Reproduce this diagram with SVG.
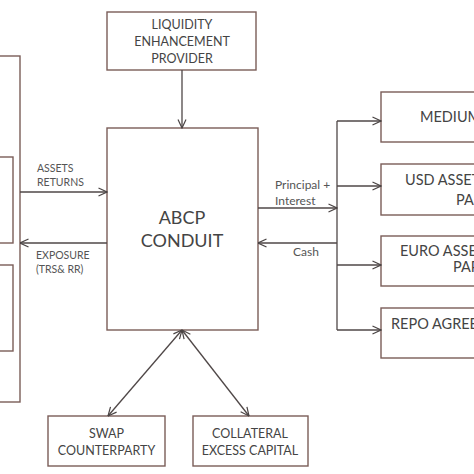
<svg xmlns="http://www.w3.org/2000/svg" width="474" height="474" viewBox="0 0 474 474">
<defs>
<marker id="arr" viewBox="0 0 10 10" refX="9.5" refY="5" markerWidth="10" markerHeight="10" markerUnits="userSpaceOnUse" orient="auto-start-reverse">
<path d="M1,1 L9.5,5 L1,9" fill="none" stroke="#4a4444" stroke-width="1.2"/>
</marker>
<style>
.box{fill:#ffffff;stroke:#7a5d58;stroke-width:1.4}
.ln{fill:none;stroke:#4f4747;stroke-width:1.3}
.t{font-family:Lato,"Liberation Sans",sans-serif;fill:#444444;text-anchor:middle}
.s{font-family:Lato,"Liberation Sans",sans-serif;fill:#555555}
.r{font-family:Lato,"Liberation Sans",sans-serif;fill:#444444;font-size:14.5px}
</style>
</defs>
<rect width="474" height="474" fill="#ffffff"/>
<g id="left-outer"><rect class="box" x="-10" y="56" width="30" height="346"/></g>
<g id="left-inner-1"><rect class="box" x="-10" y="157" width="23" height="86"/></g>
<g id="left-inner-2"><rect class="box" x="-10" y="265" width="23" height="86"/></g>
<g id="liquidity">
<rect class="box" x="107" y="12" width="149" height="58"/>
<text class="t" x="182" y="29" font-size="12.5">LIQUIDITY</text>
<text class="t" x="182" y="46" font-size="12.5">ENHANCEMENT</text>
<text class="t" x="182" y="63" font-size="12.5">PROVIDER</text>
</g>
<g id="conduit">
<rect class="box" x="107" y="128" width="151" height="202"/>
<text class="t" x="182" y="224" font-size="18">ABCP</text>
<text class="t" x="182" y="247" font-size="18">CONDUIT</text>
</g>
<g id="medium">
<rect class="box" x="381" y="92" width="120" height="50"/>
<text class="r" x="420" y="122">MEDIUM</text>
</g>
<g id="usd">
<rect class="box" x="381" y="164" width="120" height="51"/>
<text class="r" x="405" y="185">USD ASSET</text>
<text class="r" x="456" y="205">PAPER</text>
</g>
<g id="euro">
<rect class="box" x="381" y="236" width="120" height="50"/>
<text class="r" x="400" y="256">EURO ASSET</text>
<text class="r" x="453" y="272">PAPER</text>
</g>
<g id="repo">
<rect class="box" x="381" y="308" width="120" height="50"/>
<text class="r" x="391" y="329">REPO AGREEMENT</text>
</g>
<g id="swap">
<rect class="box" x="48" y="416" width="117" height="50"/>
<text class="t" x="106.5" y="438" font-size="12.5">SWAP</text>
<text class="t" x="106.5" y="455" font-size="12.5">COUNTERPARTY</text>
</g>
<g id="collateral">
<rect class="box" x="193" y="416" width="115" height="50"/>
<text class="t" x="250" y="438" font-size="12.5">COLLATERAL</text>
<text class="t" x="250" y="455" font-size="12.5">EXCESS CAPITAL</text>
</g>
<g id="connectors">
<line class="ln" x1="182" y1="70" x2="182" y2="128" marker-end="url(#arr)"/>
<line class="ln" x1="20" y1="192" x2="107" y2="192" marker-end="url(#arr)"/>
<line class="ln" x1="107" y1="243" x2="20" y2="243" marker-end="url(#arr)"/>
<line class="ln" x1="258" y1="208" x2="337" y2="208" marker-end="url(#arr)"/>
<line class="ln" x1="337" y1="243" x2="258" y2="243" marker-end="url(#arr)"/>
<line class="ln" x1="337" y1="121" x2="337" y2="330"/>
<line class="ln" x1="337" y1="121" x2="381" y2="121" marker-end="url(#arr)"/>
<line class="ln" x1="337" y1="186" x2="381" y2="186" marker-end="url(#arr)"/>
<line class="ln" x1="337" y1="265" x2="381" y2="265" marker-end="url(#arr)"/>
<line class="ln" x1="337" y1="330" x2="381" y2="330" marker-end="url(#arr)"/>
<line class="ln" x1="182" y1="330" x2="108" y2="416" marker-start="url(#arr)" marker-end="url(#arr)"/>
<line class="ln" x1="182" y1="330" x2="249" y2="416" marker-start="url(#arr)" marker-end="url(#arr)"/>
</g>
<g id="labels">
<text class="s" x="37" y="172" font-size="10.5">ASSETS</text>
<text class="s" x="37" y="186" font-size="10.5">RETURNS</text>
<text class="s" x="36" y="259" font-size="10.5">EXPOSURE</text>
<text class="s" x="36" y="273" font-size="10.5">(TRS&amp; RR)</text>
<text class="s" x="275" y="189" font-size="12">Principal +</text>
<text class="s" x="275" y="205" font-size="12">Interest</text>
<text class="s" x="293" y="256" font-size="12">Cash</text>
</g>
</svg>
